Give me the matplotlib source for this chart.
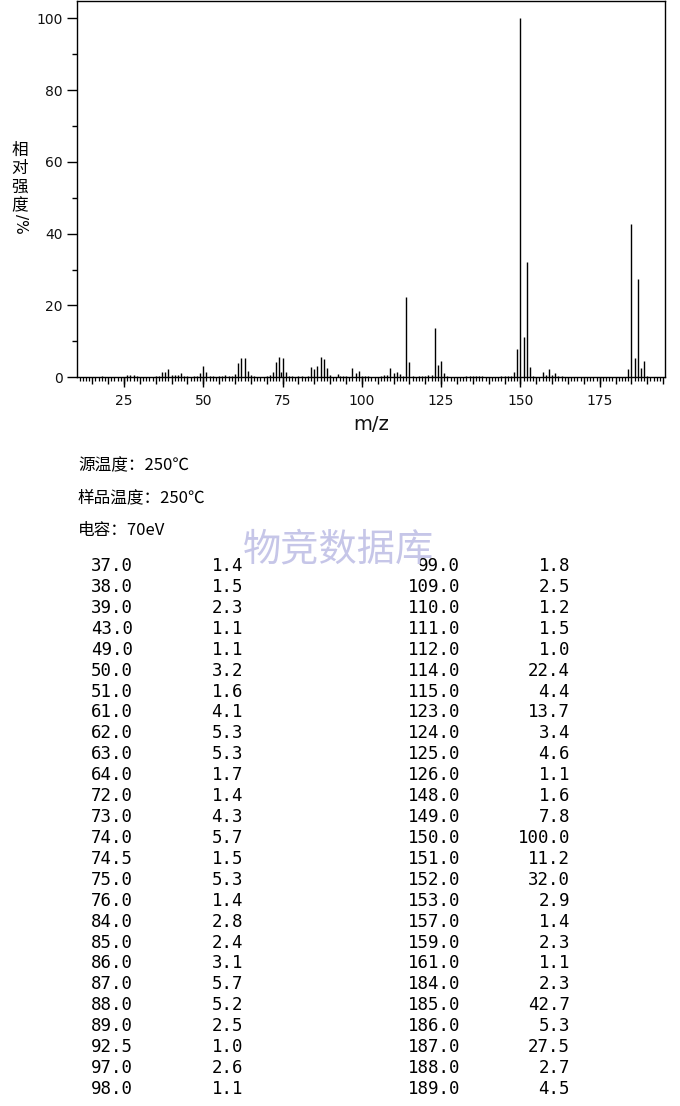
import matplotlib
matplotlib.use("Agg")
import matplotlib.pyplot as plt
from matplotlib.ticker import MultipleLocator, FixedLocator

# ---------------- data ----------------
mz = [18, 26, 27, 28, 29, 35, 36, 37, 38, 39, 40, 41, 42, 43, 44, 45, 47, 48,
      49, 50, 51, 52, 53, 55, 56, 57, 58, 59, 60, 61, 62, 63, 64, 65, 66, 70,
      71, 72, 73, 74, 74.5, 75, 76, 77, 78, 80, 81, 83, 84, 85, 86, 87, 88, 89,
      90, 92.5, 93, 94, 95, 97, 98, 99, 100, 101, 102, 106, 107, 108, 109, 110,
      111, 112, 113, 114, 115, 116, 118, 119, 120, 121, 122, 123, 124, 125,
      126, 127, 133, 134, 135, 136, 137, 138, 144, 145, 146, 147, 148, 149,
      150, 151, 152, 153, 154, 157, 158, 159, 160, 161, 162, 163, 184, 185,
      186, 187, 188, 189, 190]
intensity = [0.4, 0.6, 0.7, 0.6, 0.4, 0.3, 0.5, 1.4, 1.5, 2.3, 0.6, 0.6, 0.6,
             1.1, 0.4, 0.4, 0.5, 0.4, 1.1, 3.2, 1.6, 0.5, 0.3, 0.4, 0.4, 0.7,
             0.5, 0.4, 0.8, 4.1, 5.3, 5.3, 1.7, 0.6, 0.4, 0.3, 0.6, 1.4, 4.3,
             5.7, 1.5, 5.3, 1.4, 0.5, 0.4, 0.4, 0.4, 0.5, 2.8, 2.4, 3.1, 5.7,
             5.2, 2.5, 0.7, 1.0, 0.4, 0.3, 0.5, 2.6, 1.1, 1.8, 0.5, 0.3, 0.3,
             0.3, 0.7, 0.6, 2.5, 1.2, 1.5, 1.0, 0.5, 22.4, 4.4, 0.4, 0.3, 0.3,
             0.3, 0.6, 0.7, 13.7, 3.4, 4.6, 1.1, 0.3, 0.5, 0.4, 0.3, 0.3, 0.3,
             0.3, 0.3, 0.4, 0.4, 0.4, 1.6, 7.8, 100.0, 11.2, 32.0, 2.9, 0.3,
             1.4, 0.7, 2.3, 0.6, 1.1, 0.3, 0.3, 2.3, 42.7, 5.3, 27.5, 2.7, 4.5,
             0.5]

y_ticks = [0, 20, 40, 60, 80, 100]
x_ticks = [25, 50, 75, 100, 125, 150, 175]
info_lines = ["源温度：250℃", "样品温度：250℃", "电容：70eV"]
y_label_chars = ["相", "对", "强", "度"]
x_label = "m/z"
watermark = "物竞数据库"

# table: peaks with intensity >= 1.0
table = [(m, v) for m, v in zip(mz, intensity) if v >= 1.0]
half = (len(table) + 1) // 2
left_tbl, right_tbl = table[:half], table[half:]

# ---------------- figure ----------------
W, H = 680, 1106
fig = plt.figure(figsize=(W / 100, H / 100), dpi=100)
fig.patch.set_facecolor("white")


def P(x, y):
    return x / W, 1 - y / H


ax_l, ax_r, ax_t, ax_b = 77.3, 665.0, 1.0, 377.3
ax = fig.add_axes([ax_l / W, 1 - ax_b / H, (ax_r - ax_l) / W, (ax_b - ax_t) / H])
ax.vlines(mz, 0, intensity, color="black", linewidth=1.0)
ax.set_xlim(10.27, 195.6)
ax.set_ylim(0, 104.8)
for s in ax.spines.values():
    s.set_linewidth(1.0)
    s.set_color("black")

ax.yaxis.set_major_locator(FixedLocator(y_ticks))
ax.yaxis.set_minor_locator(MultipleLocator(10))
ax.tick_params(axis="y", which="major", length=7.2, width=1, direction="out",
               labelsize=10, pad=3.5, labelcolor="#111111")
ax.tick_params(axis="y", which="minor", length=3.6, width=1, direction="out")

ax.xaxis.set_major_locator(MultipleLocator(5))
ax.xaxis.set_minor_locator(MultipleLocator(1))
ax.tick_params(axis="x", which="major", length=4.8, width=1, direction="out",
               labelbottom=False)
ax.tick_params(axis="x", which="minor", length=2.9, width=0.9, direction="out")

sec = ax.secondary_xaxis("bottom")
sec.set_xticks(x_ticks)
sec.set_xticklabels([str(t) for t in x_ticks])
sec.tick_params(axis="x", length=7.2, width=1, direction="out", labelsize=10,
                pad=4.5, labelcolor="#111111")
sec.spines["bottom"].set_visible(False)

fig.text(*P(371, 424), x_label, fontsize=14, ha="center", va="center",
         family="DejaVu Sans", color="#111111")

cjk = ["Noto Sans CJK SC", "DejaVu Sans"]
for i, ch in enumerate(y_label_chars):
    fig.text(*P(20, 150 + i * 18.5), ch, fontsize=12, ha="center",
             va="center", family=cjk)
fig.text(*P(20, 224), "/%", fontsize=11, ha="center", va="center",
         rotation=-90, family="DejaVu Sans")

for i, line in enumerate(info_lines):
    fig.text(*P(78, 466 + i * 32), line, fontsize=12, ha="left",
             va="center", family=cjk)

row0, dy = 566, 20.92
mono = "DejaVu Sans Mono"
for i, (m, v) in enumerate(left_tbl):
    y = row0 + i * dy
    fig.text(*P(133, y), f"{m:.1f}", fontsize=12.5, ha="right", va="center",
             family=mono)
    fig.text(*P(243, y), f"{v:.1f}", fontsize=12.5, ha="right", va="center",
             family=mono)
for i, (m, v) in enumerate(right_tbl):
    y = row0 + i * dy
    fig.text(*P(460, y), f"{m:.1f}", fontsize=12.5, ha="right", va="center",
             family=mono)
    fig.text(*P(570, y), f"{v:.1f}", fontsize=12.5, ha="right", va="center",
             family=mono)

fig.text(*P(339, 550), watermark, fontsize=27.5, ha="center", va="center",
         family=cjk, color="#c6c6e8", zorder=10)

fig.savefig("out.png", dpi=100, facecolor="white")
